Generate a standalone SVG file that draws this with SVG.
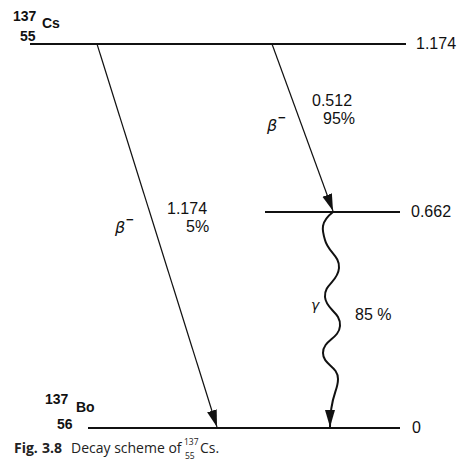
<svg xmlns="http://www.w3.org/2000/svg" width="474" height="475" viewBox="0 0 474 475">
<style>
.lvl{stroke:#111;stroke-width:2.2;fill:none}
.ln{stroke:#111;stroke-width:1.2;fill:none}
.t{font-family:"Liberation Sans",Arial,sans-serif;font-size:16px;fill:#111}
.s{font-family:"Liberation Sans",Arial,sans-serif;font-size:14px;fill:#111;font-weight:bold}
.g{font-family:"DejaVu Sans",sans-serif;font-style:italic;font-size:16px;fill:#111}
.m{font-family:"Liberation Sans",Arial,sans-serif;font-size:13px;fill:#111;font-weight:bold}
.cap{font-family:"Open Sans","Liberation Sans",sans-serif;font-size:14px;fill:#222}
</style>
<defs>
<marker id="ahw" markerWidth="18" markerHeight="12" refX="17" refY="5" orient="auto" markerUnits="userSpaceOnUse">
<path d="M0,0 L17,5 L0,10 Z" fill="#111"/>
</marker>
</defs>
<g id="level-cs">
<line class="lvl" x1="30" y1="44" x2="406" y2="44"/>
<text class="t" x="416" y="49">1.174</text>
<text class="s" x="13" y="21">137</text>
<text class="s" x="42" y="28">Cs</text>
<text class="s" x="20" y="41">55</text>
</g>
<g id="level-ba-excited">
<line class="lvl" x1="265" y1="212" x2="400" y2="212"/>
<text class="t" x="411" y="217">0.662</text>
</g>
<g id="level-ba">
<line class="lvl" x1="88" y1="428" x2="400" y2="428"/>
<text class="t" x="412" y="433">0</text>
<text class="s" x="45" y="404">137</text>
<text class="s" x="76" y="412">Bo</text>
<text class="s" x="57" y="429">56</text>
</g>
<g id="connectors">
<line class="ln" x1="97" y1="44" x2="217" y2="427" marker-end="url(#ahw)"/>
<line class="ln" x1="272" y1="44" x2="333" y2="211" marker-end="url(#ahw)"/>
<path class="lvl" style="stroke-width:2" d="M333,212 C320,222 322,230 325,240 C328,252 340,256 339,268 C338,282 324,284 325,297 C326,310 341,312 340,326 C339,339 323,340 323,353 C323,365 338,366 338,379 C338,392 330,395 330,427" marker-end="url(#ahw)"/>
</g>
<g id="labels">
<text class="g" x="115" y="233">β</text><text class="m" x="126" y="224">−</text>
<text class="t" x="167" y="214">1.174</text>
<text class="t" x="186" y="232">5%</text>
<text class="t" x="312" y="106">0.512</text>
<text class="t" x="323" y="124">95%</text>
<text class="g" x="267" y="131">β</text><text class="m" x="278" y="122">−</text>
<text class="g" x="311" y="310" style="font-size:14px">γ</text>
<text class="t" x="355" y="320">85 %</text>
</g>
<g id="caption">
<text class="cap" x="14" y="453" font-weight="bold">Fig.</text>
<text class="cap" x="42" y="453" font-weight="bold">3.8</text>
<text class="cap" x="71" y="453">Decay scheme of</text>
<text class="cap" x="184" y="445" style="font-size:8.5px">137</text>
<text class="cap" x="185" y="459" style="font-size:8.5px">55</text>
<text class="cap" x="200" y="453">Cs.</text>
</g>
</svg>
